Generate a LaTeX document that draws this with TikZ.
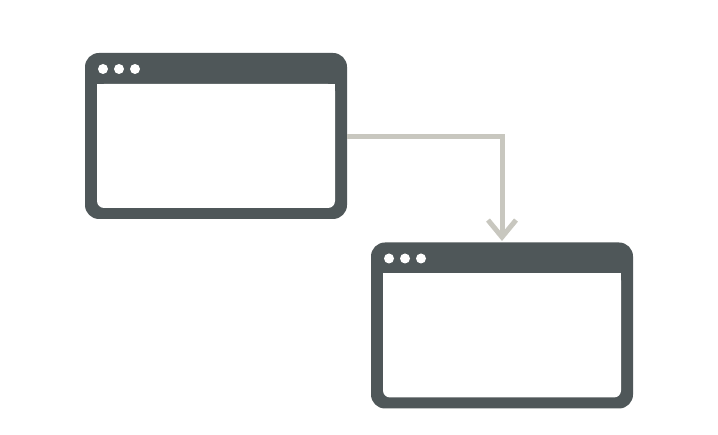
\documentclass[tikz,border=0pt]{standalone}
\usetikzlibrary{arrows.meta,calc}
\definecolor{windark}{HTML}{4F5759}
\definecolor{arrowgray}{HTML}{C8C7BF}
\tikzset{
  x=1pt,y=1pt,
  winframe/.style={fill=windark, rounded corners=14pt, minimum width=262pt, minimum height=166pt, inner sep=0pt, outer sep=0pt},
  windot/.style={fill=white},
  link/.style={draw=arrowgray, line width=5pt, -{Straight Barb[length=17pt,width=28pt,line width=5pt]}, shorten >=1.5pt}
}
\newcommand{\windowdetail}[1]{%
  \coordinate (#1A) at ([shift={(12pt,-31pt)}]#1.north west);
  \coordinate (#1B) at ([shift={(-12pt,11pt)}]#1.south east);
  \fill[white, rounded corners=7pt] (#1A) rectangle (#1B);
  \fill[white] (#1A) rectangle ($(#1B|-#1A)+(0,-12pt)$);
  \fill[windot] ([shift={(18pt,-16pt)}]#1.north west) circle (5pt);
  \fill[windot] ([shift={(34pt,-16pt)}]#1.north west) circle (5pt);
  \fill[windot] ([shift={(50pt,-16pt)}]#1.north west) circle (5pt);
}
\begin{document}
\begin{tikzpicture}
\useasboundingbox[fill=white] (0,0) rectangle (718,435);
\node[winframe] (w1) at (216,299) {};
\node[winframe] (w2) at (502,109.5) {};
\windowdetail{w1}
\windowdetail{w2}
\draw[link] ([yshift=-1pt]w1.east) -| (w2.north);
\end{tikzpicture}
\end{document}
